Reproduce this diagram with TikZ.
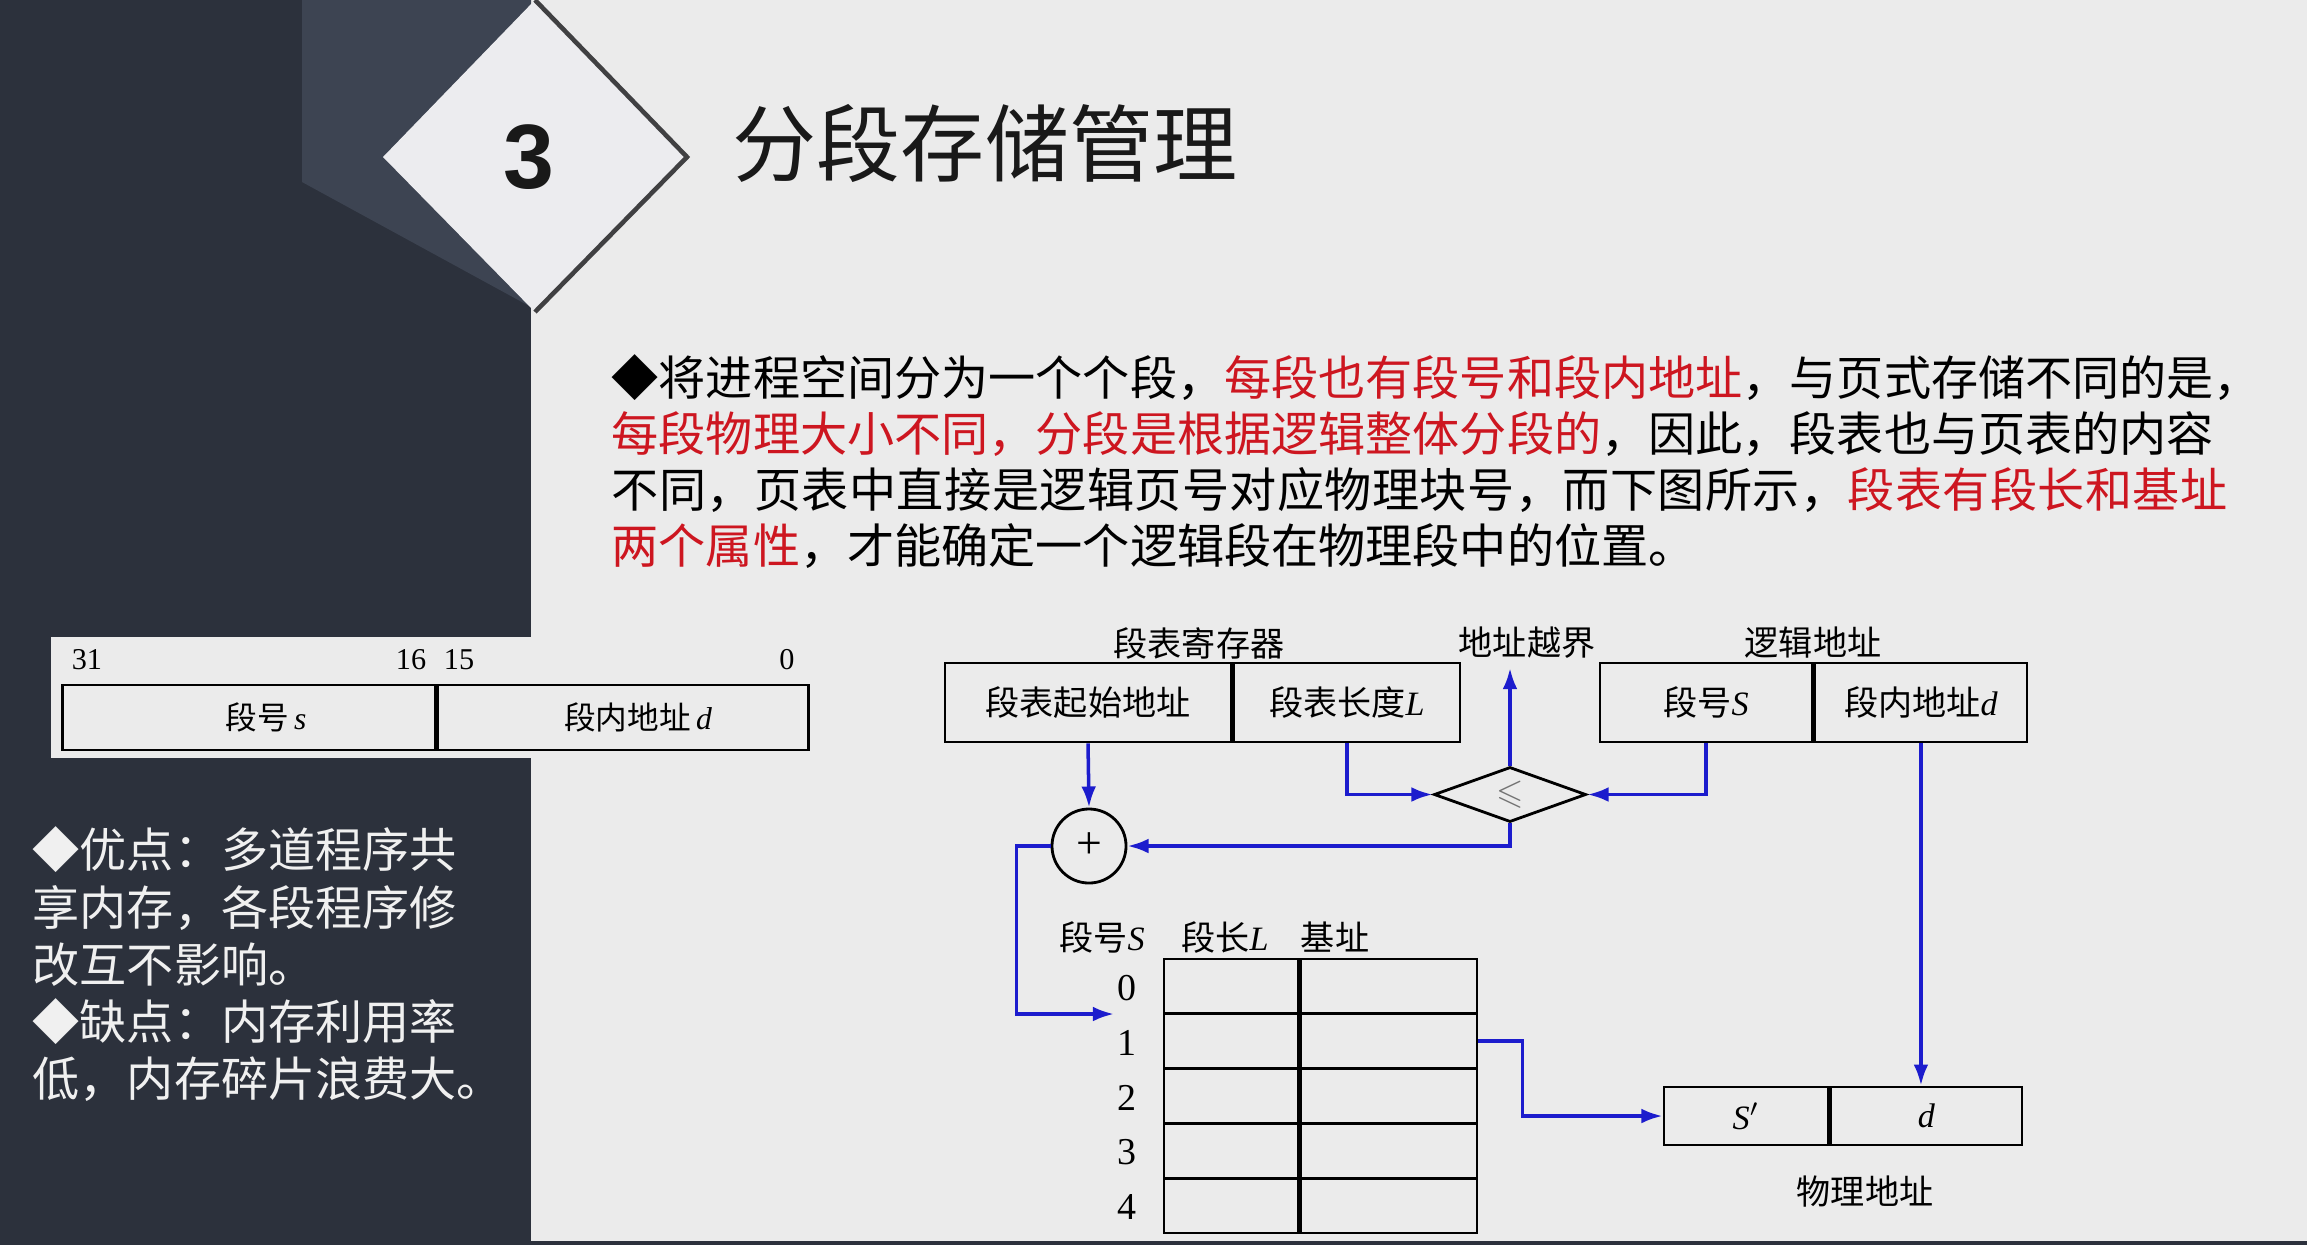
\documentclass[tikz,border=0pt]{standalone}
\usepackage{amssymb}
\usepackage{fontspec}
\setmainfont{Liberation Serif}
\newfontfamily\cjk{Noto Sans CJK SC}
\newfontfamily\arial{Liberation Sans}
\usetikzlibrary{arrows.meta,shapes.geometric,positioning}

\definecolor{pagebg}{RGB}{235,235,235}
\definecolor{panel}{RGB}{44,49,60}
\definecolor{band}{RGB}{61,68,82}
\definecolor{badge}{RGB}{236,236,239}
\definecolor{rim}{RGB}{64,64,66}
\definecolor{hired}{RGB}{205,22,32}
\definecolor{arrblue}{RGB}{28,28,205}

\newcommand{\hl}[1]{\textcolor{hired}{#1}}
\newcommand{\ivar}[1]{{\rmfamily\itshape #1}}
\newcommand{\dfont}{\cjk\fontsize{9.7pt}{11pt}\selectfont}

\begin{document}
\begin{tikzpicture}[
    x=0.01cm, y=-0.01cm,
    fieldbox/.style={
        draw,
        line width=0.8pt,
        minimum height=0.79cm,
        inner sep=0pt,
        font=\dfont
    },
    lbl/.style={inner sep=0pt, font=\dfont},
    num/.style={inner sep=0pt, font=\fontsize{10.8pt}{12pt}\selectfont},
    link/.style={draw=arrblue, line width=1pt},
    arr/.style={link, -{Latex[length=6pt,width=4.2pt]}},
    body/.style={anchor=west, inner sep=0pt, font=\cjk\fontsize{13.4pt}{16pt}\selectfont},
    sidetext/.style={anchor=west, inner sep=0pt, text=white!94!black, font=\cjk\fontsize{13.4pt}{16pt}\selectfont}
]

\useasboundingbox (0,0) rectangle (2307,1245);
\fill[pagebg] (0,0) rectangle (2307,1245);
\fill[panel] (0,0) rectangle (531,1245);
\fill[band] (302,0) -- (531,0) -- (531,307) -- (302,182) -- cycle;
\fill[pagebg] (51,637) rectangle (531,758);
\fill[badge] (535,0) -- (687,157) -- (535,312) -- (383,157) -- cycle;
\draw[rim, line width=1.3pt] (535,0) -- (687,157) -- (535,312);
\fill[panel] (0,1241) rectangle (2307,1245);

\node[inner sep=0pt, font=\arial\bfseries\fontsize{26pt}{28pt}\selectfont, text=black!90] (secnum) at (529,157) {3};
\node[inner sep=0pt, font=\cjk\fontsize{23.9pt}{26pt}\selectfont, text=black!90] (title) at (985,143) {分段存储管理};

\node[body] (line1) at (611,378) {◆将进程空间分为一个个段，\hl{每段也有段号和段内地址}，与页式存储不同的是，};
\node[body] (line2) at (611,434) {\hl{每段物理大小不同，分段是根据逻辑整体分段的}，因此，段表也与页表的内容};
\node[body] (line3) at (611,490) {\addfontfeature{LetterSpace=0.9}不同，页表中直接是逻辑页号对应物理块号，而下图所示，\hl{段表有段长和基址}};
\node[body] (line4) at (611,546) {\hl{两个属性}，才能确定一个逻辑段在物理段中的位置。};

\node[sidetext] (pro1) at (32,850) {◆优点：多道程序共};
\node[sidetext] (pro2) at (32,908) {享内存，各段程序修};
\node[sidetext] (pro3) at (32,965) {改互不影响。};
\node[sidetext] (con1) at (32,1022) {◆缺点：内存利用率};
\node[sidetext] (con2) at (32,1079) {低，内存碎片浪费大。};

\node[fieldbox, minimum width=3.72cm, minimum height=0.65cm, font=\cjk\fontsize{9pt}{10pt}\selectfont] (fseg) at (249,717.5) {\hspace*{0.34cm}段号\,\ivar{s}};
\node[fieldbox, minimum width=3.7cm, minimum height=0.65cm, anchor=west, font=\cjk\fontsize{9pt}{10pt}\selectfont] (foff) at (fseg.east) {\hspace*{0.3cm}段内地址\,\ivar{d}};
\foreach \bit/\bx in {31/87, 16/411, 15/459, 0/787}
    \node[inner sep=0pt, font=\fontsize{8.6pt}{10pt}\selectfont] (bit\bit) at (\bx,660) {\bit};

\node[fieldbox, minimum width=2.86cm] (regbase) at (1088,702.5) {段表起始地址};
\node[fieldbox, minimum width=2.26cm, anchor=west] (reglen) at (regbase.east) {段表长度\ivar{L}};
\node[lbl] (reglbl) at (1199,643) {段表寄存器};

\node[fieldbox, minimum width=2.12cm] (lseg) at (1706,702.5) {段号\ivar{S}};
\node[fieldbox, minimum width=2.12cm, anchor=west] (loff) at (lseg.east) {段内地址\ivar{d}};
\node[lbl] (loglbl) at (1813,643) {逻辑地址};
\node[lbl] (ooblbl) at (1527,643) {地址越界};

\node[diamond, draw, line width=0.8pt, aspect=2.76, minimum width=1.52cm, minimum height=0.55cm, inner sep=0pt, text=black!55] (cmp) at (1510,794.5) {$\leqslant$};
\node[circle, draw, line width=0.8pt, minimum size=0.74cm, inner sep=0pt, font=\fontsize{13pt}{13pt}\selectfont] (adder) at (1089,846) {+};

\node[lbl] (hdrseg) at (1102,937) {段号\ivar{S}};
\node[lbl] (hdrlen) at (1225,937) {段长\ivar{L}};
\node[lbl] (hdrbase) at (1335,937) {基址};
\foreach \r in {0,...,4} {
    \node[fieldbox, minimum width=1.34cm, minimum height=0.548cm] (len\r) at (1231,986.4+54.8*\r) {};
    \node[fieldbox, minimum width=1.76cm, minimum height=0.548cm, anchor=west] (base\r) at (len\r.east) {};
    \node[num] (idx\r) at (1127,988+54.8*\r) {\r};
}

\node[fieldbox, minimum width=1.64cm, minimum height=0.58cm] (pseg) at (1746,1116) {\ivar{S}$'$};
\node[fieldbox, minimum width=1.91cm, minimum height=0.58cm, anchor=west] (poff) at (pseg.east) {\ivar{d}};
\node[lbl] (physlbl) at (1865,1192) {物理地址};

\coordinate (oobtip) at (1510,668);
\coordinate (rowin) at (1114,1014);

\draw[arr] (regbase.south) -- (adder.north);
\draw[arr] (reglen.south) |- (cmp.west);
\draw[arr] (lseg.south) |- (cmp.east);
\draw[arr] (cmp.north) -- (oobtip);
\draw[arr] (cmp.south) |- (adder.east);
\draw[arr] (adder.west) -- ++(-34,0) |- (rowin);
\draw[arr] (base1.east) -- ++(44,0) |- (pseg.west);
\draw[arr] (loff.south) -- (loff.south |- poff.north);

\end{tikzpicture}
\end{document}
